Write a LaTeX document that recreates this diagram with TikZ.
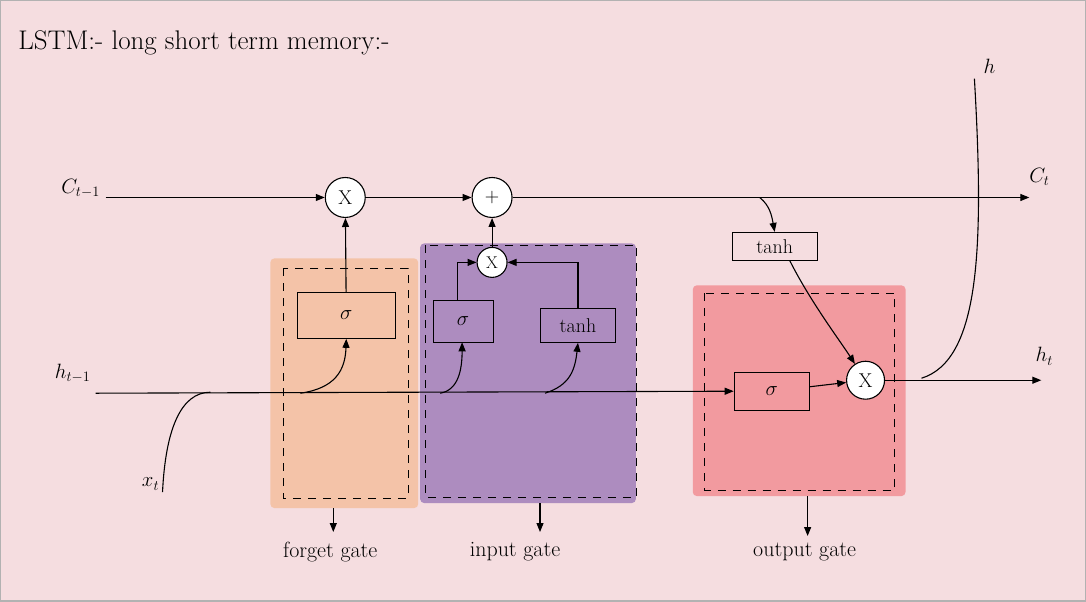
\documentclass[tikz,border=0pt]{standalone}
\usetikzlibrary{arrows.meta}
\begin{document}
\begin{tikzpicture}[x=1pt,y=-1pt,
  ln/.style={draw=black,line width=1.1pt},
  arr/.style={ln,-{Triangle[length=9pt,width=7pt]}},
  big/.style={font=\fontsize{20}{24}\selectfont},
  op/.style={circle,draw=black,line width=1.1pt,fill=white,minimum size=40pt,inner sep=0pt,big},
  sop/.style={circle,draw=black,line width=1.1pt,minimum size=30pt,inner sep=0pt,font=\fontsize{17}{20}\selectfont},
  bx/.style={draw=black,line width=1.1pt,inner sep=0pt,big},
  dsh/.style={draw=black,line width=1pt,dash pattern=on 8pt off 7pt},
  lbl/.style={font=\fontsize{22}{26}\selectfont}]
\definecolor{bg}{HTML}{F5DDE0}
\definecolor{forg}{HTML}{F4C3A8}
\definecolor{inp}{HTML}{AD8CBF}
\definecolor{outg}{HTML}{F29A9F}
\fill[bg,draw=gray!60,line width=1.5pt] (0,0) rectangle (1086,601);
\useasboundingbox (0,0) rectangle (1086,601);
% gate backgrounds
\fill[forg,rounded corners=4pt] (270,258) rectangle (418,508);
\fill[inp,rounded corners=4pt] (420,243) rectangle (636,503);
\fill[outg,rounded corners=4pt] (693,285) rectangle (906,496);
\draw[dsh] (283,268) rectangle (408,498);
\draw[dsh] (425,245) rectangle (637,497);
\draw[dsh] (705,293) rectangle (895,490);
% title
\node[anchor=west,font=\fontsize{27}{32}\selectfont] (title) at (14,42) {LSTM:- long short term memory:-};
% nodes
\node[op] (fx) at (345,197) {X};
\node[op] (plus) at (492,197) {+};
\node[bx,minimum width=98pt,minimum height=46pt] (fs) at (346,315) {$\sigma$};
\node[sop,fill=white] (ix) at (492,262) {X};
\node[bx,minimum width=60pt,minimum height=42pt] (is) at (463,321) {$\sigma$};
\node[bx,minimum width=75pt,minimum height=34pt] (it) at (578,325) {tanh};
\node[bx,minimum width=85pt,minimum height=28pt] (ot) at (775,246) {tanh};
\node[bx,minimum width=75pt,minimum height=38pt] (os) at (772,391) {$\sigma$};
\node[circle,draw=black,line width=1.1pt,fill=white,minimum size=38pt,inner sep=0pt,big] (ox) at (866,380) {X};
% labels
\node[lbl] (ctm) at (80,188) {$C_{t-1}$};
\node[lbl] (ct) at (1040,176) {$C_t$};
\node[lbl] (htm) at (72,373) {$h_{t-1}$};
\node[lbl] (ht) at (1045,356) {$h_t$};
\node[lbl] (xt) at (150,484) {$x_t$};
\node[lbl] (h) at (990,66) {$h$};
\coordinate (cs) at (105,197);
\coordinate (ce) at (1030,197);
\coordinate (hs) at (95,393);
\coordinate (he) at (1042,380);
\coordinate (htop) at (975,78);
% cell line
\draw[arr] (cs) -- (fx);
\draw[arr] (fx) -- (plus);
\draw[arr] (plus) -- (ce);
% hidden line
\draw[arr] (hs) -- (os.west);
\draw[arr] (os) -- (ox);
\draw[arr] (ox) -- (he);
\draw[ln] (922,378) .. controls (980,360) and (985,250) .. (htop);
% x_t
\draw[ln] (162,492) .. controls (165,430) and (180,392) .. (210,392);
% forget gate
\draw[arr] (fs) -- (fx);
\draw[arr] (300,393) .. controls (335,388) and (345,370) .. (fs.south);
% input gate
\draw[arr] (ix) -- (plus);
\draw[arr] (is.north -| 457,0) |- (ix.west);
\draw[arr] (it.north) |- (ix.east);
\draw[arr] (440,393) .. controls (458,390) and (462,370) .. (462,342);
\draw[arr] (545,393) .. controls (570,385) and (575,370) .. (it.south);
% output gate
\draw[arr] (760,197) .. controls (770,205) and (772,215) .. (ot.north);
\draw[arr] (790,260) .. controls (810,300) and (840,340) .. (ox);
% gate labels
\draw[arr] (333,508) -- (333,532);
\draw[arr] (540,503) -- (540,532);
\draw[arr] (808,496) -- (808,536);
\node[lbl] (fl) at (330,552) {forget gate};
\node[lbl] (il) at (515,552) {input gate};
\node[lbl] (ol) at (805,552) {output gate};
\end{tikzpicture}
\end{document}
